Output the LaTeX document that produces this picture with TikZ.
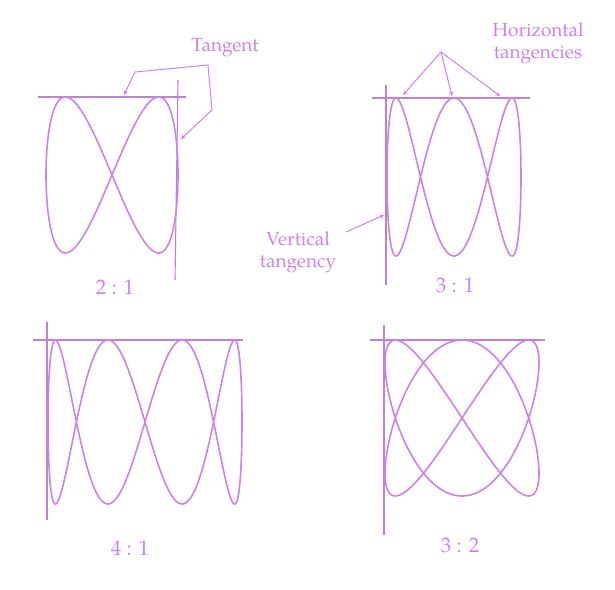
\documentclass[tikz,border=0pt]{standalone}
\usepackage{fontspec}
\setmainfont{TeX Gyre Pagella}
\definecolor{lp}{RGB}{205,130,235}
\begin{document}
\begin{tikzpicture}[x=1pt,y=-1pt,
  cur/.style={draw=lp,line width=1.6pt,smooth,samples=300,variable=\t,domain=0:360},
  ax/.style={draw=lp!80!gray,line width=1.1pt},
  arr/.style={draw=lp,line width=1pt,-stealth},
  lab/.style={text=lp,font=\fontsize{19}{22}\selectfont,align=center},
  rat/.style={text=lp,font=\fontsize{21}{24}\selectfont}]
\useasboundingbox[fill=white] (0,0) rectangle (615,589);
% 2:1
\draw[ax] (38,97) -- (186,97);
\draw[ax] (178,80) -- (175,280);
\draw[cur] plot ({112+66*sin(\t)},{175-78*sin(2*\t)});
\node[rat] (r1) at (115,287) {2 : 1};
% 3:1
\draw[ax] (372,98) -- (530,98);
\draw[ax] (386,85) -- (386,285);
\draw[cur] plot ({454+67*sin(\t)},{177-79*cos(3*\t)});
\node[rat] (r2) at (455,285) {3 : 1};
% 4:1
\draw[ax] (33,340) -- (243,340);
\draw[ax] (47,322) -- (47,520);
\draw[cur] plot ({145+97*sin(\t)},{422-82*sin(4*\t)});
\node[rat] (r3) at (130,548) {4 : 1};
% 3:2
\draw[ax] (370,340) -- (545,340);
\draw[ax] (384,325) -- (384,535);
\draw[cur] plot ({462+77*sin(2*\t)},{418-78*cos(3*\t)});
\node[rat] (r4) at (460,545) {3 : 2};
% labels
\node[lab] (tg) at (225,48) {Tangent};
\coordinate (t1) at (124,95);
\coordinate (t2) at (181,139);
\coordinate (ta) at (135,72);
\coordinate (tb) at (208,65);
\coordinate (tc) at (212,110);
\draw[arr] (ta) -- (t1);
\draw[arr] (ta) -- (tb) -- (tc) -- (t2);
\node[lab] (ht) at (538,43) {Horizontal\\tangencies};
\coordinate (hs) at (441,52);
\coordinate (h1) at (403,95);
\coordinate (h2) at (452,96);
\coordinate (h3) at (500,96);
\draw[arr] (hs) -- (h1);
\draw[arr] (hs) -- (h2);
\draw[arr] (hs) -- (h3);
\node[lab] (vt) at (298,252) {Vertical\\tangency};
\coordinate (v1) at (384,215);
\draw[arr] (346,232) -- (v1);
\end{tikzpicture}
\end{document}
